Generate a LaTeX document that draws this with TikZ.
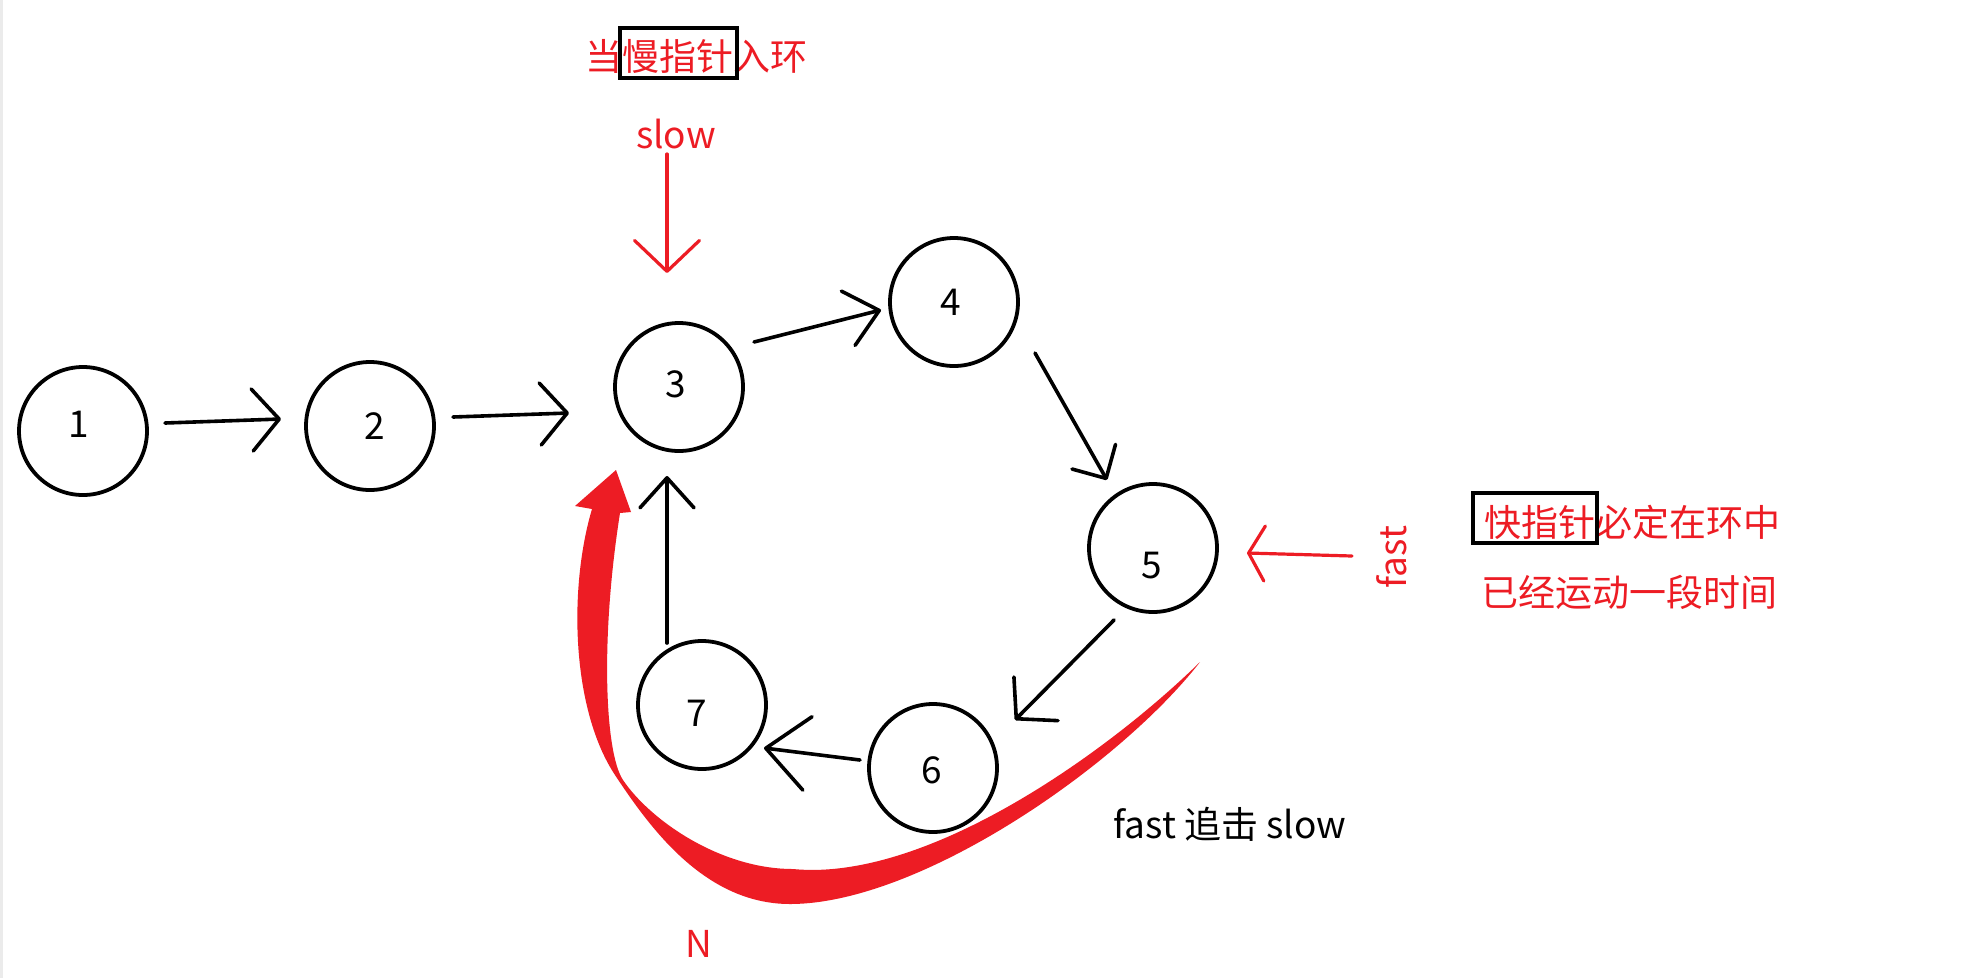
\documentclass[tikz,border=0pt]{standalone}
\usepackage{fontspec}
\setmainfont{Noto Sans CJK SC}
\usetikzlibrary{arrows.meta,calc}
\definecolor{pred}{HTML}{ED1C24}
\begin{document}
\begin{tikzpicture}[x=1pt,y=-1pt,
  circ/.style={circle,draw,line width=3.8pt,minimum size=128pt,inner sep=0pt},
  txt/.style={font=\fontsize{37}{44}\selectfont,inner sep=0pt},
  rtxt/.style={txt,text=pred},
  arr/.style={line width=3.6pt,line cap=round,-{Straight Barb[length=27pt,width=62pt,round]}},
  rarr/.style={line width=3.2pt,line cap=round,draw=pred},
  box/.style={draw,line width=4pt}]
\useasboundingbox (0,0) rectangle (1983,978);
\fill[white] (0,0) rectangle (1983,978);
\fill[black!8] (0,0) rectangle (3,978);

% nodes
\node[circ] (n1) at (83,431) {};
\node[circ] (n2) at (370,426) {};
\node[circ] (n3) at (679,387) {};
\node[circ] (n4) at (954,302) {};
\node[circ] (n5) at (1153,548) {};
\node[circ] (n6) at (933,768) {};
\node[circ] (n7) at (702,705) {};
\node[txt] (l1) at (79,424) {1};
\node[txt] (l2) at (375,426) {2};
\node[txt] (l3) at (676,384) {3};
\node[txt] (l4) at (951,302) {4};
\node[txt] (l5) at (1152,566) {5};
\node[txt] (l6) at (932,770) {6};
\node[txt] (l7) at (697,713) {7};

% black connectors
\draw[arr] ($(n1)+(82,-8)$) -- ($(n2)+(-89,-7)$);
\draw[arr] ($(n2)+(83,-9)$) -- ($(n3)+(-110,26)$);
\draw[arr,-{Straight Barb[length=32pt,width=56pt,round]}] ($(n3)+(75,-45)$) -- ($(n4)+(-73,8)$);
\draw[arr,-{Straight Barb[length=25pt,width=50pt,round]}] ($(n4)+(81,51)$) -- ($(n5)+(-46,-68)$);
\draw[arr,-{Straight Barb[length=28pt,width=62pt,round]}] ($(n5)+(-39,72)$) -- ($(n6)+(82,-48)$);
\draw[arr,-{Straight Barb[length=42pt,width=74pt,round]}] ($(n6)+(-73,-8)$) -- ($(n7)+(62,43)$);
\draw[arr,-{Straight Barb[length=30pt,width=54pt,round]}] ($(n7)+(-35,-62)$) -- ($(n3)+(-12,89)$);

% texts
\node[rtxt] (t1) at (696,56) {当慢指针入环};
\draw[box] (620,28) rectangle (737,78);
\node[rtxt] (slow) at (676,134) {slow};
\coordinate (slowfrom) at (667,154);
\draw[rarr,-{Straight Barb[length=31pt,width=65pt,round]}] (slowfrom) -- ($(n3)+(-12,-114)$);

\node[rtxt,rotate=90] (fast) at (1392,557) {fast};
\coordinate (fastfrom) at (1352,556);
\draw[rarr,-{Straight Barb[length=16pt,width=55pt,round]}] (fastfrom) -- ($(n5)+(94,5)$);

\node[rtxt] (t2) at (1632,522) {快指针必定在环中};
\draw[box] (1473,493) rectangle (1597,543);
\node[rtxt] (t3) at (1629,592) {已经运动一段时间};

\node[txt] (chase) at (1230,824) {fast 追击 slow};
\node[rtxt] (N) at (699,944) {N};

% big red curved arrow
\fill[pred] (616,470) -- (575,506) -- (592,509)
 .. controls (568,590) and (572,710) .. (615,775)
 .. controls (650,828) and (705,904) .. (790,904)
 .. controls (920,904) and (1120,765) .. (1200,662)
 .. controls (1105,755) and (925,882) .. (793,869)
 .. controls (720,869) and (650,820) .. (623,780)
 .. controls (605,753) and (600,640) .. (620,513)
 -- (631,512) -- cycle;
\end{tikzpicture}
\end{document}
